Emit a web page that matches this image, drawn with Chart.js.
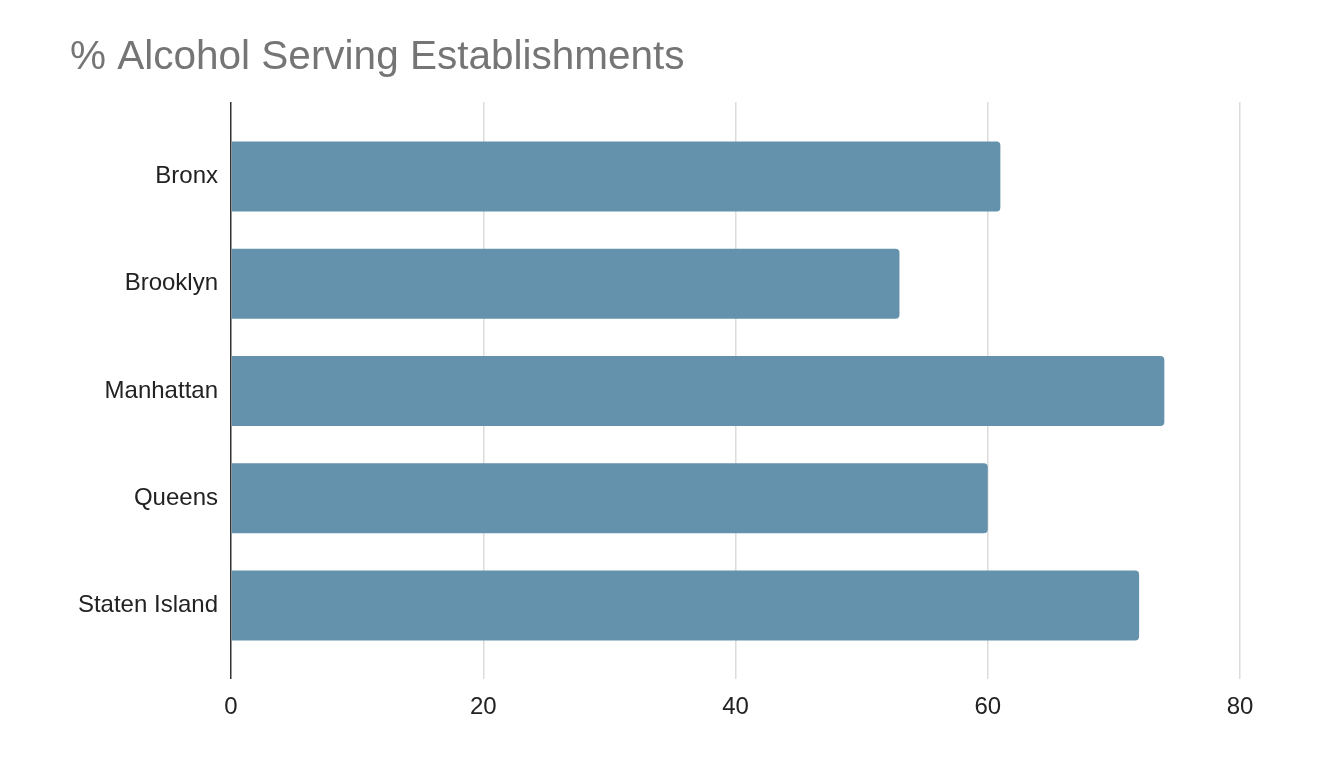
<!DOCTYPE html>
<html>
<head>
<meta charset="utf-8">
<script src="https://cdn.jsdelivr.net/npm/chart.js@4"></script>
<style>
  html, body { margin: 0; padding: 0; background: #ffffff; }
  #wrap { position: relative; width: 1328px; height: 776px; }
</style>
</head>
<body>
<div id="wrap"><canvas id="c"></canvas></div>
<script>
const chartTitle = '% Alcohol Serving Establishments';
const categories = ['Bronx', 'Brooklyn', 'Manhattan', 'Queens', 'Staten Island'];
const values = [61, 53, 74, 60, 72];
const xTicks = [0, 20, 40, 60, 80];

const barColor = '#6491ab';
const gridColor = '#dcdcdc';
const axisColor = '#333333';
const FONT = '"Liberation Sans", Arial, Helvetica, sans-serif';

const lineColorFor = (ctx) => (ctx.tick && ctx.tick.value === 0) ? axisColor : gridColor;
const lineWidthFor = () => 1.5;

new Chart(document.getElementById('c'), {
  type: 'bar',
  data: {
    labels: categories,
    datasets: [{
      data: values,
      backgroundColor: barColor,
      borderWidth: 0,
      borderRadius: 4,
      borderSkipped: 'start',
      barPercentage: 1.0,
      categoryPercentage: 0.653
    }]
  },
  options: {
    indexAxis: 'y',
    responsive: true,
    maintainAspectRatio: false,
    animation: false,
    devicePixelRatio: 1,
    layout: { padding: { top: 34, left: 70, right: 88, bottom: 0 } },
    plugins: {
      legend: { display: false },
      tooltip: { enabled: false },
      title: {
        display: true,
        text: chartTitle,
        align: 'start',
        color: '#757575',
        font: { family: FONT, size: 40.5, weight: 'normal', lineHeight: 1.2 },
        padding: { top: 0, bottom: 20.4 }
      }
    },
    scales: {
      x: {
        type: 'linear',
        position: 'bottom',
        min: xTicks[0],
        max: xTicks[xTicks.length - 1],
        afterBuildTicks: (s) => { s.ticks = xTicks.map(v => ({ value: v })); },
        border: { display: false },
        grid: {
          color: lineColorFor,
          tickColor: lineColorFor,
          lineWidth: lineWidthFor,
          drawTicks: true,
          tickLength: 20
        },
        ticks: {
          color: '#222222',
          font: { family: FONT, size: 24 },
          padding: 14,
          maxRotation: 0
        },
        afterFit: (s) => { s.height = 117; s.paddingRight = 0; s.paddingLeft = 0; }
      },
      x2: {
        type: 'linear',
        position: 'top',
        min: xTicks[0],
        max: xTicks[xTicks.length - 1],
        afterBuildTicks: (s) => { s.ticks = xTicks.map(v => ({ value: v })); },
        border: { display: false },
        grid: {
          drawOnChartArea: false,
          color: lineColorFor,
          tickColor: lineColorFor,
          lineWidth: lineWidthFor,
          drawTicks: true,
          tickLength: 21
        },
        ticks: { display: false },
        afterFit: (s) => { s.height = 20; s.paddingRight = 0; s.paddingLeft = 0; }
      },
      y: {
        type: 'category',
        offset: true,
        border: { display: false },
        grid: { display: false },
        ticks: {
          color: '#222222',
          font: { family: FONT, size: 24 },
          padding: 5
        },
        afterFit: (s) => { s.width = 161; }
      }
    }
  }
});
</script>
</body>
</html>
